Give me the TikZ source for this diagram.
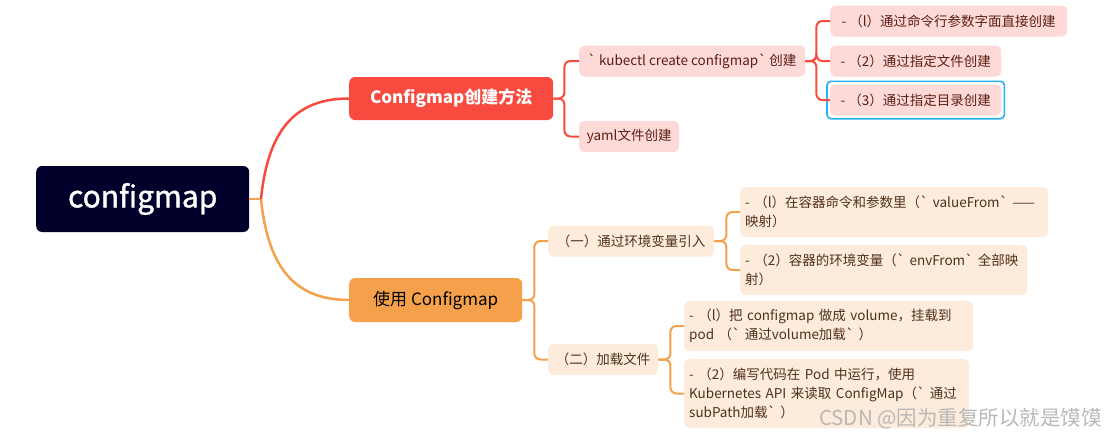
\documentclass[tikz,border=0pt]{standalone}
\usepackage{fontspec}
\setmainfont{Noto Sans CJK SC}[Ligatures=TeXOff]
\newfontfamily\rootfont{Noto Sans CJK SC}[Ligatures=TeXOff,FakeBold=1.2]
\definecolor{rootc}{HTML}{00002A}
\definecolor{redc}{HTML}{F84A3F}
\definecolor{pinkc}{HTML}{FDDAD7}
\definecolor{pinktext}{HTML}{5B1F14}
\definecolor{orangec}{HTML}{F5A14B}
\definecolor{peachc}{HTML}{FDEBDC}
\definecolor{peachtext}{HTML}{4F3219}
\definecolor{bluec}{HTML}{27B3F2}
\definecolor{wmc}{HTML}{B8B8B8}
\newcommand\fsz[2]{\fontsize{#1}{#2}\selectfont}
\tikzset{
  rootbox/.style={fill=rootc, text=white, rounded corners=6pt, minimum width=213pt, minimum height=66pt, inner sep=0pt, anchor=west, font=\rootfont\fsz{30}{36}},
  lvred/.style={fill=redc, text=white, rounded corners=6pt, minimum height=43pt, inner sep=0pt, anchor=west, font=\fsz{17}{20}\bfseries},
  lvorange/.style={fill=orangec, text=black, rounded corners=6pt, minimum height=44pt, inner sep=0pt, anchor=west, font=\fsz{17}{20}},
  pbox/.style={fill=pinkc, text=pinktext, rounded corners=5pt, minimum height=31pt, inner sep=0pt, anchor=west, font=\fsz{13.5}{19}},
  obox/.style={fill=peachc, text=peachtext, rounded corners=5pt, minimum height=31pt, inner sep=0pt, anchor=west, font=\fsz{13.5}{19}},
  multi/.style={align=left, inner xsep=5pt, inner ysep=0pt},
  redthick/.style={draw=redc, line width=2.5pt},
  orangethick/.style={draw=orangec, line width=2.5pt},
  redline/.style={draw=redc, line width=2pt, rounded corners=6pt},
  orangeline/.style={draw=orangec, line width=2pt, rounded corners=6pt},
}
\begin{document}
\begin{tikzpicture}[x=1pt,y=-1pt]
\useasboundingbox[fill=white] (0,0) rectangle (1106,439);

% nodes
\node[rootbox] (root) at (36,199) {configmap};
\node[lvred, minimum width=204pt] (c1) at (349,98.5) {Configmap创建方法};
\node[lvorange, minimum width=173pt] (c2) at (349,300) {使用 Configmap};

\node[pbox, minimum width=226pt] (k) at (579,61) {` kubectl create configmap` 创建};
\node[pbox, minimum width=100pt] (ya) at (579,136.5) {yaml文件创建};
\node[pbox, minimum width=237pt] (k1) at (830,21) {-\ （l）通过命令行参数字面直接创建};
\node[pbox, minimum width=171pt] (k2) at (830,61) {-\ （2）通过指定文件创建};
\node[pbox, minimum width=171pt] (k3) at (830,100) {-\ （3）通过指定目录创建};

\node[obox, minimum width=166pt] (e) at (548,241) {（一）通过环境变量引入};
\node[obox, minimum width=110pt] (l) at (548,359.5) {（二）加载文件};
\node[obox, multi, minimum width=308pt, minimum height=50pt, text width=298pt] (e1) at (740,212) {-\ （l）在容器命令和参数里（` valueFrom` ——\\映射）};
\node[obox, multi, minimum width=287pt, minimum height=50pt, text width=277pt] (e2) at (740,270) {-\ （2）容器的环境变量（` envFrom` 全部映\\射）};
\node[obox, multi, minimum width=289pt, minimum height=50pt, text width=279pt] (l1) at (684,326) {-\ （l）把 configmap 做成 volume，挂载到\\pod （` 通过volume加载` ）};
\node[obox, multi, minimum width=285pt, minimum height=69pt, text width=275pt] (l2) at (684,393.5) {-\ （2）编写代码在 Pod 中运行，使用\\Kubernetes API 来读取 ConfigMap（` 通过\\subPath加载` ）};

% selection frame
\draw[bluec, line width=1.6pt, rounded corners=4pt] ([shift={(-3,3)}]k3.south west) rectangle ([shift={(3,-3)}]k3.north east);

% root connectors
\coordinate (rj) at (261,199);
\draw[orangethick] (root.east) -- (rj);
\draw[redthick] (rj) .. controls (268,130) and (295,98.5) .. (c1.west);
\draw[orangethick] (rj) .. controls (268,268) and (295,300) .. (c2.west);

% red branch
\draw[redline] (c1.east) -- ++(11,0) |- (k.west);
\draw[redline] (c1.east) -- ++(11,0) |- (ya.west);
\draw[redline] (k.east) -- ++(11,0) |- (k1.west);
\draw[redline] (k.east) -- ++(11,0) |- (k2.west);
\draw[redline] (k.east) -- ++(11,0) |- (k3.west);

% orange branch
\draw[orangeline] (c2.east) -- ++(12,0) |- (e.west);
\draw[orangeline] (c2.east) -- ++(12,0) |- (l.west);
\draw[orangeline] (e.east) -- ++(12,0) |- (e1.west);
\draw[orangeline] (e.east) -- ++(12,0) |- (e2.west);
\draw[orangeline] (l.east) -- ++(12,0) |- (l1.west);
\draw[orangeline] (l.east) -- ++(12,0) |- (l2.west);

% watermark
\node[text=wmc, font=\fsz{20.5}{22}, anchor=east, inner sep=0pt] (wm) at (1102,419) {CSDN @因为重复所以就是馍馍};
\end{tikzpicture}
\end{document}
